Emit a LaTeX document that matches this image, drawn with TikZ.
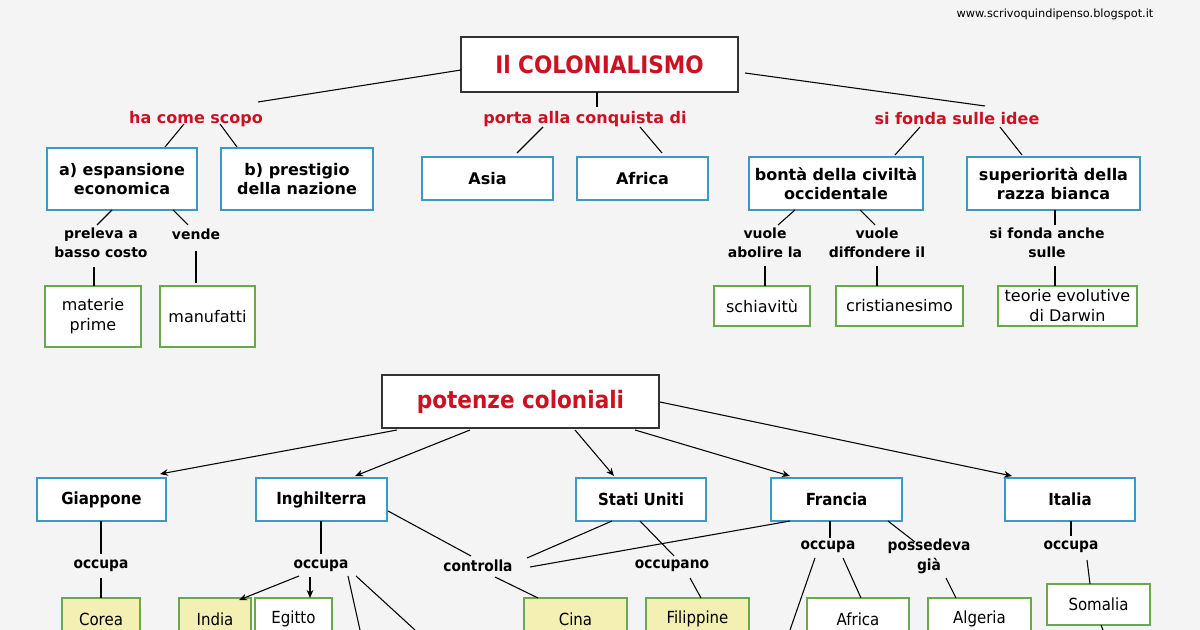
\documentclass[tikz,border=0pt]{standalone}
\usepackage{fontspec}
\setmainfont{DejaVu Sans}
\newfontfamily\cond{DejaVu Sans Condensed}
\usetikzlibrary{arrows.meta}
\definecolor{bg}{HTML}{F4F4F4}
\definecolor{bl}{HTML}{3A9AC4}
\definecolor{gr}{HTML}{6AA84F}
\definecolor{yl}{HTML}{F4F0B4}
\definecolor{rd}{HTML}{CC1122}
\newcommand{\bx}[7]{\node[#6,minimum width={(#4-#2)*0.75pt},minimum height={(#5-#3)*0.75pt}] (#1) at ({(#2+#4)/2},{(#3+#5)/2}) {#7};}
\begin{document}
\begin{tikzpicture}[x=0.75pt,y=-0.75pt,inner sep=0pt,
 bbox/.style={draw=bl,line width=1.2pt,fill=white,align=center,font=\bfseries\fontsize{12}{14.5}\selectfont},
 cbox/.style={draw=bl,line width=1.2pt,fill=white,align=center,font=\cond\bfseries\fontsize{12.5}{15}\selectfont},
 gbox/.style={draw=gr,line width=1.2pt,fill=white,align=center,font=\fontsize{12}{15}\selectfont},
 ybox/.style={draw=gr,line width=1.2pt,fill=yl,align=center,font=\cond\fontsize{12.5}{15}\selectfont},
 wbox/.style={draw=gr,line width=1.2pt,fill=white,align=center,font=\cond\fontsize{12.5}{15}\selectfont},
 tbox/.style={draw=black!80,line width=0.8pt,fill=white,text=rd,font=\cond\bfseries\fontsize{18}{21}\selectfont},
 rlab/.style={text=rd,font=\bfseries\fontsize{12}{14}\selectfont},
 lab/.style={align=center,font=\bfseries\fontsize{10.5}{14}\selectfont},
 clab/.style={align=center,font=\cond\bfseries\fontsize{11.5}{15}\selectfont},
 ln/.style={draw=black,line width=0.8pt},
 ar/.style={ln,-{Stealth[length=6pt,width=5pt]}}]
\fill[bg] (0,0) rectangle (1200,630);
\useasboundingbox (0,0) rectangle (1200,630);
\node[font=\fontsize{8.5}{10}\selectfont] (web) at (1055,14) {www.scrivoquindipenso.blogspot.it};
% top
\bx{title}{461}{37}{738}{92}{tbox}{Il COLONIALISMO}
\node[rlab] (hcs) at (196,119) {ha come scopo};
\node[rlab] (pac) at (585,119) {porta alla conquista di};
\node[rlab] (sfi) at (957,119) {si fonda sulle idee};
\bx{ea}{47}{148}{197}{210}{bbox}{a) espansione\\economica}
\bx{pb}{221}{148}{373}{210}{bbox}{b) prestigio\\della nazione}
\bx{asia}{422}{157}{553}{200}{bbox}{Asia}
\bx{afr}{577}{157}{708}{200}{bbox}{Africa}
\bx{bon}{749}{157}{923}{210}{bbox}{bontà della civiltà\\occidentale}
\bx{sup}{967}{157}{1140}{210}{bbox}{superiorità della\\razza bianca}
\node[lab] (prel) at (101,243) {preleva a\\basso costo};
\node[lab] (vend) at (196,234) {vende};
\node[lab] (vab) at (765,243) {vuole\\abolire la};
\node[lab] (vdi) at (877,243) {vuole\\diffondere il};
\node[lab] (sfa) at (1047,243) {si fonda anche\\sulle};
\bx{mat}{45}{286}{141}{347}{gbox}{materie\\prime}
\bx{man}{160}{286}{255}{347}{gbox}{manufatti}
\bx{sch}{714}{286}{810}{326}{gbox}{schiavitù}
\bx{cri}{836}{286}{963}{326}{gbox}{cristianesimo}
\bx{teo}{998}{286}{1137}{326}{gbox}{teorie evolutive\\di Darwin}
\draw[ln] (461,70) -- (258,102);
\draw[ln] (597,92) -- (597,107);
\draw[ln] (745,73) -- (985,106);
\draw[ln] (184,124) -- (165,147);
\draw[ln] (220,124) -- (237,147);
\draw[ln] (543,127) -- (517,153);
\draw[ln] (640,127) -- (662,153);
\draw[ln] (920,127) -- (895,155);
\draw[ln] (1000,127) -- (1022,155);
\draw[ln] (112,210) -- (97,225);
\draw[ln] (173,210) -- (188,225);
\draw[ln] (94,267) -- (94,286);
\draw[ln] (196,251) -- (196,283);
\draw[ln] (795,210) -- (778,225);
\draw[ln] (860,210) -- (875,225);
\draw[ln] (765,266) -- (765,286);
\draw[ln] (877,266) -- (877,286);
\draw[ln] (1055,210) -- (1055,225);
\draw[ln] (1055,266) -- (1055,286);
% bottom
\bx{pot}{382}{375}{659}{428}{tbox}{potenze coloniali}
\bx{gia}{37}{478}{166}{521}{cbox}{Giappone}
\bx{ing}{256}{478}{387}{521}{cbox}{Inghilterra}
\bx{sta}{576}{478}{706}{521}{cbox}{Stati Uniti}
\bx{fra}{771}{478}{902}{521}{cbox}{Francia}
\bx{ita}{1005}{478}{1135}{521}{cbox}{Italia}
\draw[ar] (397,430) -- (160,474);
\draw[ar] (470,430) -- (355,476);
\draw[ar] (575,430) -- (614,476);
\draw[ar] (635,430) -- (790,476);
\draw[ar] (660,402) -- (1012,476);
\node[clab] (o1) at (101,566) {occupa};
\node[clab] (o2) at (321,566) {occupa};
\node[clab] (ctr) at (478,566) {controlla};
\node[clab] (ocp) at (672,566) {occupano};
\node[clab] (o3) at (828,547) {occupa};
\node[clab] (pos) at (929,556) {possedeva\\già};
\node[clab] (o4) at (1071,547) {occupa};
\bx{cor}{62}{598}{140}{640}{ybox}{Corea}
\bx{ind}{179}{598}{251}{640}{ybox}{India}
\bx{egi}{255}{598}{332}{640}{wbox}{Egitto}
\bx{cin}{524}{598}{627}{640}{ybox}{Cina}
\bx{fil}{646}{598}{749}{640}{ybox}{Filippine}
\bx{afr2}{807}{598}{909}{640}{wbox}{Africa}
\bx{alg}{928}{598}{1031}{640}{wbox}{Algeria}
\bx{som}{1047}{584}{1150}{625}{wbox}{Somalia}
\draw[ln] (101,521) -- (101,554);
\draw[ln] (101,578) -- (101,598);
\draw[ln] (321,521) -- (321,554);
\draw[ar] (299,576) -- (239,600);
\draw[ar] (310,577) -- (310,598);
\draw[ln] (348,576) -- (360,630);
\draw[ln] (356,576) -- (415,630);
\draw[ln] (388,511) -- (471,556);
\draw[ln] (612,521) -- (527,558);
\draw[ln] (790,521) -- (530,567);
\draw[ln] (495,577) -- (538,598);
\draw[ln] (640,521) -- (674,556);
\draw[ln] (690,578) -- (701,598);
\draw[ln] (830,521) -- (830,538);
\draw[ln] (815,558) -- (790,630);
\draw[ln] (843,558) -- (861,598);
\draw[ln] (888,521) -- (915,542);
\draw[ln] (946,578) -- (956,598);
\draw[ln] (1071,521) -- (1071,536);
\draw[ln] (1087,560) -- (1090,584);
\draw[ln] (1101,625) -- (1103,630);
\end{tikzpicture}
\end{document}
